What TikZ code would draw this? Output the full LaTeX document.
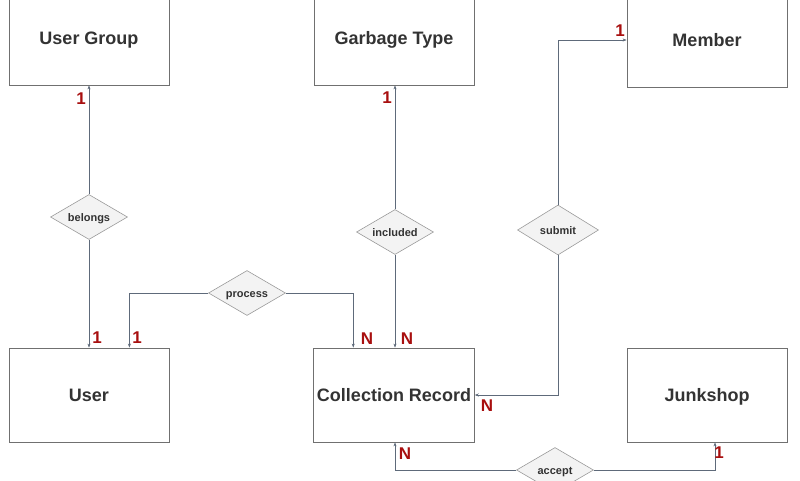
\documentclass[tikz,border=0pt]{standalone}
\usepackage{fontspec}
\setmainfont{Liberation Sans}
\usetikzlibrary{shapes.geometric,arrows.meta}

\definecolor{boxline}{HTML}{707070}
\definecolor{linkline}{HTML}{5E6A7A}
\definecolor{relline}{HTML}{9A9A9A}
\definecolor{relfill}{HTML}{F3F3F3}
\definecolor{txtgray}{HTML}{333333}
\definecolor{cardred}{HTML}{A80F0F}

\begin{document}
\begin{tikzpicture}[x=1pt,y=-1pt,
    entity/.style={draw=boxline,line width=0.8pt,minimum width=160pt,minimum height=94pt,
        text height=13pt,text depth=1pt,font=\bfseries\fontsize{18}{20}\selectfont,text=txtgray},
    relation/.style={diamond,draw=relline,fill=relfill,line width=0.6pt,aspect=2,inner sep=0pt,
        minimum width=77pt,minimum height=45pt,text height=8pt,text depth=0pt,
        font=\bfseries\fontsize{11}{12}\selectfont,text=txtgray},
    link/.style={draw=linkline,line width=0.6pt,-{Stealth[length=4pt,width=3pt]}},
    card/.style={text=cardred,font=\bfseries\fontsize{17}{18}\selectfont,inner sep=0pt}]
    \useasboundingbox (0,0) rectangle (800,480);

    % Define entities
    \foreach \name/\x/\y/\txt in {ugroup/89/38/User Group,gtype/394/38/Garbage Type,
        member/707/40/Member,user/89/395/User,crecord/394/395/Collection Record,junk/707/395/Junkshop} {
        \node[entity] (\name) at (\x,\y) {\txt};
    }

    % Define relations
    \foreach \name/\x/\y/\txt in {belongs/89/217/belongs,process/247/293/process,
        included/395/232/included,accept/555/470/accept} {
        \node[relation] (\name) at (\x,\y) {\txt};
    }
    \node[relation,minimum width=81pt,minimum height=50pt] (submit) at (558,230) {submit};

    % Connectors
    \draw[link] (belongs.north) -- (ugroup.south);
    \draw[link] (belongs.south) -- (user.north);
    \draw[link] (process.west) -| ([xshift=-40pt]user.north east);
    \draw[link] (process.east) -| ([xshift=40pt]crecord.north west);
    \draw[link] (included.north) -- (included.north |- gtype.south);
    \draw[link] (included.south) -- (included.south |- crecord.north);
    \draw[link] (submit.north) |- (member.west);
    \draw[link] (submit.south) |- (crecord.east);
    \draw[link] (accept.west) -| ([xshift=1pt]crecord.south);
    \draw[link] (accept.east) -| ([xshift=8pt]junk.south);

    % Cardinalities
    \foreach \name/\x/\y/\c in {c1/81/99/1,c2/97/338/1,c3/137/338/1,c4/367/339/N,c5/387/98/1,
        c6/407/339/N,c7/620/31/1,c8/487/406/N,c9/405/454/N,c10/719/453/1} {
        \node[card] (\name) at (\x,\y) {\c};
    }

\end{tikzpicture}
\end{document}
